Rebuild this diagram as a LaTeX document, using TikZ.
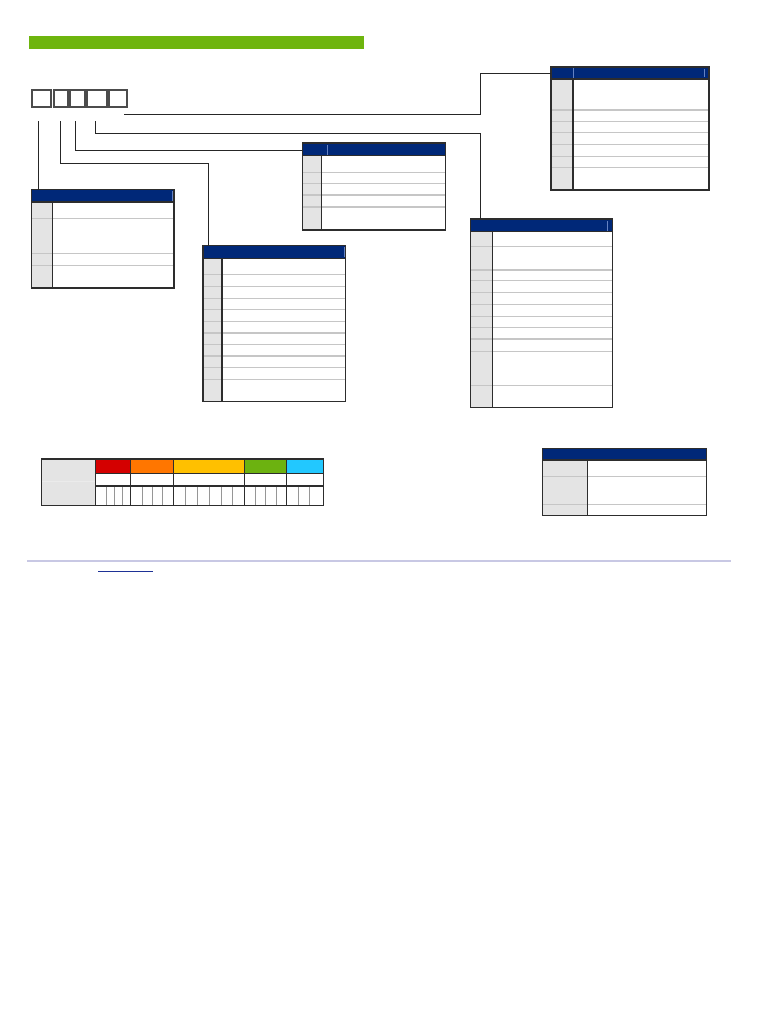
\documentclass[tikz,border=0pt]{standalone}
\usetikzlibrary{fit}
\definecolor{barGreen}{RGB}{110,181,14}
\definecolor{hdrBlue}{RGB}{0,40,120}
\definecolor{hdrHi}{RGB}{100,130,195}
\definecolor{cellGray}{RGB}{228,228,228}
\definecolor{rowGray}{RGB}{198,198,198}
\definecolor{frameGray}{RGB}{45,45,45}
\definecolor{cRed}{RGB}{212,0,0}
\definecolor{cOrange}{RGB}{255,118,0}
\definecolor{cYellow}{RGB}{255,192,0}
\definecolor{cGreen}{RGB}{108,178,16}
\definecolor{cCyan}{RGB}{34,200,255}
\definecolor{ruleLav}{RGB}{200,200,228}
\definecolor{linkBlue}{RGB}{30,50,150}
\definecolor{tickGray}{RGB}{150,150,150}
\newcommand\mytable[8]{%
  \fill[cellGray] (#2,#7) rectangle (#6,#5);
  \foreach \r in {#8} {\draw[rowline] (#2,\r) -- (#4,\r);}
  \fill[hdrBlue] (#2,#3) rectangle (#4,#7);
  \draw[frame] (#6,#7) -- (#6,#5);
  \draw[frame] (#2,#3) rectangle (#4,#5);
  \draw[frame] (#2,#7) -- (#4,#7);
  \node[fitbox, fit={(#2,#3) (#4,#5)}] (#1) {};
}
\begin{document}
\begin{tikzpicture}[x=0.75pt,y=-0.75pt,
  frame/.style={draw=frameGray,line width=0.9pt},
  rowline/.style={draw=rowGray,line width=0.8pt},
  conn/.style={draw=black!85,line width=0.75pt},
  digitbox/.style={draw=black!70,line width=0.9pt},
  fitbox/.style={inner sep=0pt,outer sep=0pt},
  hilite/.style={draw=hdrHi,line width=0.6pt}]
\useasboundingbox (0,0) rectangle (768,1024);
% title bar
\fill[barGreen] (29,36) rectangle (364,49);
% digit boxes
\foreach \n/\a/\b in {b1/32/51, b2/54/68, b3/70/85, b4/87/107, b5/109/127} {
  \draw[digitbox] (\a,90) rectangle (\b,107);
  \node[fitbox, fit={(\a,90) (\b,107)}] (\n) {};
}
% tables
\mytable{tA}{551}{67}{709}{190}{573}{79}{110,121.3,132.7,144.3,156.3,167.7}
\mytable{tB}{31.7}{189.5}{174}{288}{52.3}{202}{218.7,253.3,265.3}
\mytable{tC}{302.3}{143}{445.3}{230}{321.7}{155.7}{172.3,183.7,195,207}
\mytable{tD}{203}{245.5}{345.7}{401.7}{222}{258.3}{274.7,286.7,298.3,309.7,321.3,333,344.7,356,367.7,379.3}
\mytable{tE}{470.3}{219}{612.7}{407.7}{492.3}{231.7}{246.7,270,280.7,292.3,304.7,316.7,327.7,339,351.3,385.7}
% header highlights
\draw[hilite] (573,68.5) -- (573,78);
\draw[hilite] (704,69) -- (704,77.5);
\draw[hilite] (172.7,191) -- (172.7,201);
\draw[hilite] (327,145) -- (327,154.5);
\draw[hilite] (344.7,247) -- (344.7,257);
\draw[hilite] (607,221) -- (607,230.5);
% connectors
\coordinate (s1) at (124,114);
\coordinate (k1) at (480,114);
\coordinate (e1) at (0,74);
\draw[conn] (s1) -- (k1) |- (tA.west |- e1);
\coordinate (s2) at (95,121);
\coordinate (k2) at (480,133.5);
\draw[conn] (s2) |- (k2) -- (k2 |- tE.north);
\coordinate (s3) at (75.7,121);
\coordinate (e3) at (0,150);
\draw[conn] (s3) |- (tC.west |- e3);
\coordinate (s4) at (60,121);
\coordinate (k4) at (208.3,163);
\draw[conn] (s4) |- (k4) -- (k4 |- tD.north);
\coordinate (s5) at (38.7,121);
\draw[conn] (s5) -- (s5 |- tB.north);
% bottom-right table
\fill[cellGray] (542.3,460) rectangle (587.7,515.7);
\foreach \r in {476.3,504.3} {\draw[rowline] (542.3,\r) -- (706.7,\r);}
\fill[hdrBlue] (542.3,448.3) rectangle (706.7,460);
\draw[frame] (587.7,460) -- (587.7,515.7);
\draw[frame] (542.3,460) -- (706.7,460);
\draw[frame] (542.3,448.3) rectangle (706.7,515.7);
\node[fitbox, fit={(542.3,448.3) (706.7,515.7)}] (tF) {};
% colour scale table
\fill[cellGray] (41.7,459) rectangle (95.7,505.7);
\draw[draw=white!92!black,line width=0.6pt] (41.7,481) -- (95.7,481);
\fill[cRed] (95.7,459) rectangle (130.7,473.3);
\fill[cOrange] (130.7,459) rectangle (173.3,473.3);
\fill[cYellow] (173.3,459) rectangle (244.3,473.3);
\fill[cGreen] (244.3,459) rectangle (286.7,473.3);
\fill[cCyan] (286.7,459) rectangle (323.7,473.3);
\foreach \t in {106,114.3,122.7,142,152.3,162.7,185.3,197.7,209.3,221,232.7,255,265.7,276.7,298.3,309.3}
  {\draw[draw=tickGray,line width=0.6pt] (\t,486) -- (\t,505.7);}
\draw[frame] (95.7,473.3) -- (323.7,473.3);
\draw[frame] (95.7,486) -- (323.7,486);
\foreach \v in {95.7,130.7,173.3,244.3,286.7}
  {\draw[frame] (\v,459) -- (\v,505.7);}
\draw[frame] (41.7,459) rectangle (323.7,505.7);
\node[fitbox, fit={(41.7,459) (323.7,505.7)}] (scale) {};
% footer rule and link underline
\draw[draw=ruleLav,line width=0.9pt] (27,561) -- (731,561);
\draw[draw=linkBlue,line width=0.8pt] (98.3,571.3) -- (152.7,571.3);
\end{tikzpicture}
\end{document}
